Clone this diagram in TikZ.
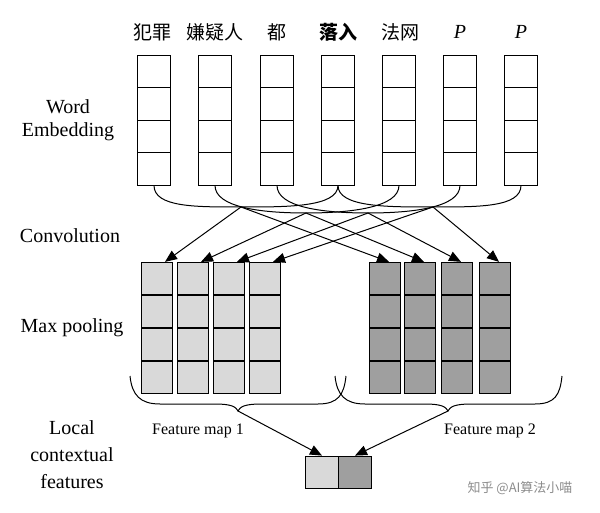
\documentclass[tikz,border=0pt]{standalone}
\usepackage{fontspec}
\setmainfont{Liberation Serif}
\newfontfamily\cjk{Noto Sans CJK SC}
\usetikzlibrary{arrows.meta}
\begin{document}
\begin{tikzpicture}[x=1pt,y=-1pt,
 cell/.style={draw,line width=0.8pt,minimum width=33pt,minimum height=32.5pt,inner sep=0pt},
 lc/.style={cell,fill=gray!30,minimum width=31pt},
 dc/.style={cell,fill=gray!75,minimum width=31pt},
 word/.style={font=\cjk\fontsize{19}{19}\selectfont},
 lab/.style={font=\fontsize{20}{23}\selectfont,align=center},
 arr/.style={-{Triangle[length=12pt,width=10pt]},line width=1pt},
 ln/.style={line width=1pt}]
\useasboundingbox (0,0) rectangle (600,513);
\foreach \i/\x in {1/154,2/215,3/277,4/338,5/399,6/460,7/521}{
  \foreach \r in {1,...,4}{
    \node[cell] (w\i r\r) at (\x,{55+32.5*(\r-0.5)}) {};
  }
}
\node[word] (t1) at (152,32) {犯罪};
\node[word] (t2) at (215,32) {嫌疑人};
\node[word] (t3) at (277,32) {都};
\node[word,font=\cjk\bfseries\fontsize{19}{19}\selectfont] (t4) at (338,32) {落入};
\node[word] (t5) at (400,32) {法网};
\node[lab,font=\itshape\fontsize{20}{20}\selectfont] (t6) at (460,32) {P};
\node[lab,font=\itshape\fontsize{20}{20}\selectfont] (t7) at (521,32) {P};
\foreach \j/\x in {1/157,2/193,3/229,4/265}{
  \foreach \r in {1,...,4}{\node[lc] (a\j r\r) at (\x,{262+33*(\r-0.5)}) {};}
}
\foreach \j/\x in {1/385,2/420,3/457,4/495}{
  \foreach \r in {1,...,4}{\node[dc] (b\j r\r) at (\x,{262+33*(\r-0.5)}) {};}
}
\coordinate (j1) at (241,207);
\coordinate (j2) at (306,213);
\coordinate (j3) at (368,213);
\coordinate (j4) at (433,207);
\foreach \k/\m in {1/4,2/5,3/6,4/7}{
  \draw[ln] (w\k r4.south) .. controls +(0,22) and +(-45,0) .. (j\k);
  \draw[ln] (w\m r4.south) .. controls +(0,22) and +(45,0) .. (j\k);
  \draw[arr] (j\k) -- ([xshift=8pt]a\k r1.north);
  \draw[arr] (j\k) -- ([xshift=4pt]b\k r1.north);
}
\coordinate (tipl) at (238,411);
\coordinate (tipr) at (448,411);
\draw[ln] (130,376) .. controls (132,395) and (140,404) .. (160,404) -- (215,404)
  .. controls (232,404) and (236,407) .. (tipl)
  .. controls (240,407) and (244,404) .. (261,404) -- (318,404)
  .. controls (338,404) and (344,395) .. (346,376);
\draw[ln] (335,376) .. controls (337,395) and (345,404) .. (365,404) -- (425,404)
  .. controls (442,404) and (446,407) .. (tipr)
  .. controls (450,407) and (454,404) .. (471,404) -- (535,404)
  .. controls (555,404) and (560,395) .. (562,376);
\node[font=\fontsize{16}{16}\selectfont] (f1) at (198,431) {Feature map 1};
\node[font=\fontsize{16}{16}\selectfont] (f2) at (490,431) {Feature map 2};
\node[lc,minimum width=33pt,minimum height=32pt] (s1) at (322,472) {};
\node[dc,minimum width=33pt,minimum height=32pt] (s2) at (355,472) {};
\draw[arr] (tipl) -- (s1.north);
\draw[arr] (tipr) -- (s2.north);
\node[lab] (l1) at (68,120) {Word\\Embedding};
\node[lab] (l2) at (70,236) {Convolution};
\node[lab] (l3) at (72,328) {Max pooling};
\node[lab,font=\fontsize{20}{27}\selectfont] (l4) at (72,455) {Local\\contextual\\features};
\node[font=\cjk\fontsize{13}{13}\selectfont,text=white!55!black] (wm) at (520,488) {知乎 @AI算法小喵};
\end{tikzpicture}
\end{document}
